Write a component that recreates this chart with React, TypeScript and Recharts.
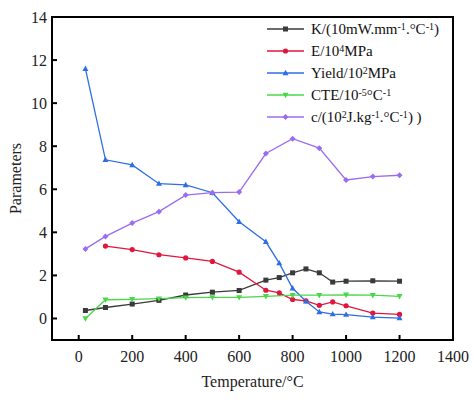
import { LineChart, Line, XAxis, YAxis, Label, ReferenceArea } from "recharts";

const kData = [
  { t: 25, v: 0.37 }, { t: 100, v: 0.51 }, { t: 200, v: 0.67 }, { t: 300, v: 0.84 },
  { t: 400, v: 1.09 }, { t: 500, v: 1.22 }, { t: 600, v: 1.3 }, { t: 700, v: 1.78 },
  { t: 750, v: 1.9 }, { t: 800, v: 2.12 }, { t: 850, v: 2.3 }, { t: 900, v: 2.12 },
  { t: 950, v: 1.69 }, { t: 1000, v: 1.73 }, { t: 1100, v: 1.75 }, { t: 1200, v: 1.73 },
];

const eData = [
  { t: 100, v: 3.36 }, { t: 200, v: 3.2 }, { t: 300, v: 2.96 }, { t: 400, v: 2.81 },
  { t: 500, v: 2.65 }, { t: 600, v: 2.15 }, { t: 700, v: 1.31 }, { t: 750, v: 1.19 },
  { t: 800, v: 0.88 }, { t: 850, v: 0.82 }, { t: 900, v: 0.61 }, { t: 950, v: 0.77 },
  { t: 1000, v: 0.59 }, { t: 1100, v: 0.25 }, { t: 1200, v: 0.19 },
];

const yieldData = [
  { t: 25, v: 11.6 }, { t: 100, v: 7.37 }, { t: 200, v: 7.13 }, { t: 300, v: 6.26 },
  { t: 400, v: 6.2 }, { t: 500, v: 5.84 }, { t: 600, v: 4.49 }, { t: 700, v: 3.56 },
  { t: 750, v: 2.57 }, { t: 800, v: 1.4 }, { t: 850, v: 0.8 }, { t: 900, v: 0.3 },
  { t: 950, v: 0.2 }, { t: 1000, v: 0.18 }, { t: 1100, v: 0.06 }, { t: 1200, v: 0.02 },
];

const cteData = [
  { t: 25, v: 0.0 }, { t: 100, v: 0.87 }, { t: 200, v: 0.89 }, { t: 300, v: 0.92 },
  { t: 400, v: 0.97 }, { t: 500, v: 0.98 }, { t: 600, v: 0.98 }, { t: 700, v: 1.03 },
  { t: 800, v: 1.08 }, { t: 900, v: 1.08 }, { t: 1000, v: 1.1 }, { t: 1100, v: 1.08 },
  { t: 1200, v: 1.03 },
];

const cData = [
  { t: 25, v: 3.23 }, { t: 100, v: 3.81 }, { t: 200, v: 4.43 }, { t: 300, v: 4.96 },
  { t: 400, v: 5.73 }, { t: 500, v: 5.84 }, { t: 600, v: 5.87 }, { t: 700, v: 7.66 },
  { t: 800, v: 8.35 }, { t: 900, v: 7.91 }, { t: 1000, v: 6.43 }, { t: 1100, v: 6.59 },
  { t: 1200, v: 6.65 },
];

const xTicks = [0, 200, 400, 600, 800, 1000, 1200, 1400];
const yTicks = [0, 2, 4, 6, 8, 10, 12, 14];

const FONT = "'Liberation Serif', 'Times New Roman', serif";

const COLORS = {
  k: "#3a3a3a",
  e: "#e0163e",
  y: "#2d6ee6",
  cte: "#48d848",
  c: "#9a6cf2",
};

const Square = (props: any) => {
  const { cx, cy, stroke } = props;
  return <rect x={cx - 2.5} y={cy - 2.5} width={5} height={5} fill={stroke} />;
};
const Circle = (props: any) => {
  const { cx, cy, stroke } = props;
  return <circle cx={cx} cy={cy} r={2.6} fill={stroke} />;
};
const TriUp = (props: any) => {
  const { cx, cy, stroke } = props;
  return <polygon points={`${cx},${cy - 3.2} ${cx - 3},${cy + 2.2} ${cx + 3},${cy + 2.2}`} fill={stroke} />;
};
const TriDown = (props: any) => {
  const { cx, cy, stroke } = props;
  return <polygon points={`${cx},${cy + 3.2} ${cx - 3},${cy - 2.2} ${cx + 3},${cy - 2.2}`} fill={stroke} />;
};
const Diamond = (props: any) => {
  const { cx, cy, stroke } = props;
  return <polygon points={`${cx},${cy - 3} ${cx + 3},${cy} ${cx},${cy + 3} ${cx - 3},${cy}`} fill={stroke} />;
};

const XTick = (props: any) => {
  const { x, y, payload } = props;
  return (
    <g>
      {payload.value !== 1400 && <line x1={x} y1={y} x2={x} y2={y - 5} stroke="#000" strokeWidth={2} />}
      <text x={x} y={y + 22} textAnchor="middle" fontSize={16} fontFamily={FONT} fill="#222">
        {payload.value}
      </text>
    </g>
  );
};

const YTick = (props: any) => {
  const { x, y, payload } = props;
  return (
    <g>
      {payload.value !== 14 && <line x1={x} y1={y} x2={x + 5} y2={y} stroke="#000" strokeWidth={2} />}
      <text x={x - 5} y={y + 5.5} textAnchor="end" fontSize={16} fontFamily={FONT} fill="#222">
        {payload.value}
      </text>
    </g>
  );
};

const legendItems = [
  { key: "k", label: <>K/(10mW.mm<sup>-1</sup>.°C<sup>-1</sup>)</>, Marker: Square },
  { key: "e", label: <>E/10<sup>4</sup>MPa</>, Marker: Circle },
  { key: "y", label: <>Yield/10<sup>2</sup>MPa</>, Marker: TriUp },
  { key: "cte", label: <>CTE/10<sup>-5</sup>°C<sup>-1</sup></>, Marker: TriDown },
  { key: "c", label: <>c/(10<sup>2</sup>J.kg<sup>-1</sup>.°C<sup>-1</sup>) )</>, Marker: Diamond },
];

const ChartLegend = () => (
  <div
    style={{
      position: "absolute",
      left: 266,
      top: 18,
      fontFamily: FONT,
      fontSize: 15,
      color: "#111",
    }}
  >
    {legendItems.map(({ key, label, Marker }) => {
      const col = (COLORS as any)[key];
      return (
        <div key={key} style={{ display: "flex", alignItems: "center", height: 22 }}>
          <svg width={40} height={10} style={{ marginRight: 5 }}>
            <line x1={1} y1={5} x2={38} y2={5} stroke={col} strokeWidth={1.3} />
            <Marker cx={19.5} cy={5} stroke={col} />
          </svg>
          <span style={{ lineHeight: "15px", whiteSpace: "nowrap" }}>{label}</span>
        </div>
      );
    })}
  </div>
);

export default function App() {
  return (
    <div style={{ position: "absolute", left: 0, top: 0, width: 474, height: 399, background: "#fff" }}>
      <style>{`sup{font-size:10px;vertical-align:top;position:relative;top:-3px;}`}</style>
      <LineChart width={474} height={399} margin={{ top: 17, right: 21, bottom: 0, left: 0 }}>
        <XAxis
          xAxisId="b"
          dataKey="t"
          type="number"
          domain={[-100, 1400]}
          ticks={xTicks}
          allowDataOverflow
          height={59}
          tickSize={0}
          tickMargin={0}
          tick={<XTick />}
          axisLine={{ stroke: "#000", strokeWidth: 2 }}
          tickLine={false}
        >
          <Label
            content={(p: any) => (
              <text
                x={p.viewBox.x + p.viewBox.width / 2}
                y={p.viewBox.y + 47}
                textAnchor="middle"
                fontSize={16}
                fontFamily={FONT}
                fill="#222"
              >
                Temperature/°C
              </text>
            )}
          />
        </XAxis>
        <YAxis
          yAxisId="l"
          type="number"
          domain={[-1, 14]}
          ticks={yTicks}
          allowDataOverflow
          width={52}
          tickSize={0}
          tickMargin={0}
          tick={<YTick />}
          axisLine={{ stroke: "#000", strokeWidth: 2 }}
          tickLine={false}
        >
          <Label
            content={(p: any) => {
              const cx = p.viewBox.x + 15;
              const cy = p.viewBox.y + p.viewBox.height / 2;
              return (
                <text
                  x={cx}
                  y={cy}
                  transform={`rotate(-90 ${cx} ${cy})`}
                  textAnchor="middle"
                  dominantBaseline="central"
                  fontSize={16}
                  fontFamily={FONT}
                  fill="#222"
                >
                  Parameters
                </text>
              );
            }}
          />
        </YAxis>
        <ReferenceArea
          xAxisId="b"
          yAxisId="l"
          x1={-100}
          x2={1400}
          y1={-1}
          y2={14}
          fill="none"
          fillOpacity={0}
          stroke="#000"
          strokeWidth={2}
          ifOverflow="visible"
        />
        <Line xAxisId="b" yAxisId="l" data={kData} dataKey="v" name="K" stroke={COLORS.k} strokeWidth={1.3} dot={<Square />} isAnimationActive={false} />
        <Line xAxisId="b" yAxisId="l" data={eData} dataKey="v" name="E" stroke={COLORS.e} strokeWidth={1.3} dot={<Circle />} isAnimationActive={false} />
        <Line xAxisId="b" yAxisId="l" data={yieldData} dataKey="v" name="Yield" stroke={COLORS.y} strokeWidth={1.3} dot={<TriUp />} isAnimationActive={false} />
        <Line xAxisId="b" yAxisId="l" data={cteData} dataKey="v" name="CTE" stroke={COLORS.cte} strokeWidth={1.3} dot={<TriDown />} isAnimationActive={false} />
        <Line xAxisId="b" yAxisId="l" data={cData} dataKey="v" name="c" stroke={COLORS.c} strokeWidth={1.3} dot={<Diamond />} isAnimationActive={false} />
      </LineChart>
      <ChartLegend />
    </div>
  );
}
